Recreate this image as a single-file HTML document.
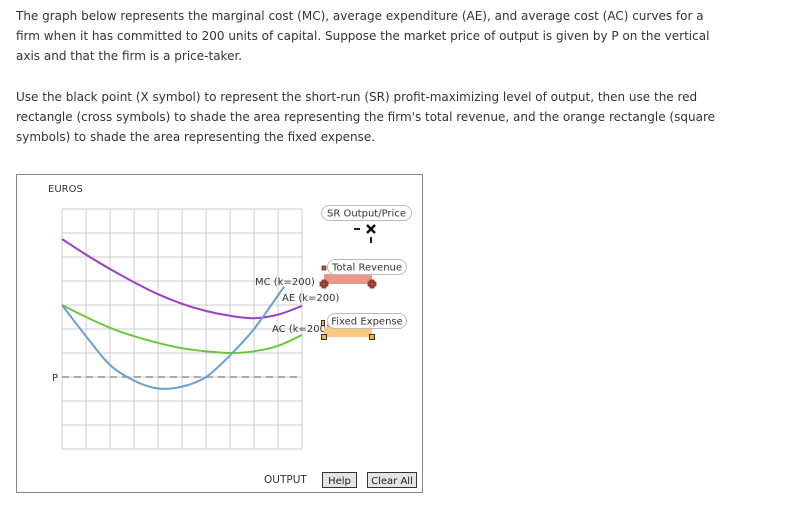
<!DOCTYPE html>
<html><head><meta charset="utf-8"><style>
body{margin:0;background:#fff;width:811px;height:527px;overflow:hidden;font-family:"DejaVu Sans","Liberation Sans",sans-serif;color:#333}
.p{position:absolute;left:16px;font-size:12px;line-height:20px;margin:0}
</style></head><body>
<p class="p" style="top:6px">The graph below represents the marginal cost (MC), average expenditure (AE), and average cost (AC) curves for a<br>firm when it has committed to 200 units of capital. Suppose the market price of output is given by P on the vertical<br>axis and that the firm is a price-taker.</p>
<p class="p" style="top:87px">Use the black point (X symbol) to represent the short-run (SR) profit-maximizing level of output, then use the red<br>rectangle (cross symbols) to shade the area representing the firm's total revenue, and the orange rectangle (square<br>symbols) to shade the area representing the fixed expense.</p>
<svg id="chart" width="811" height="527" style="position:absolute;left:0;top:0" font-family="DejaVu Sans, Liberation Sans, sans-serif">
<rect x="16.5" y="174.5" width="406" height="318" fill="#fff" stroke="#888"/>
<g id="grid"></g>
<g id="curves"></g>
<text x="48" y="192" font-size="10" fill="#333">EUROS</text>
<text x="264" y="483" font-size="10.5" fill="#333">OUTPUT</text>
<text x="52" y="381" font-size="10" fill="#333">P</text>
<text x="255" y="285" font-size="10" fill="#333">MC (k=200)</text>
<text x="282" y="301" font-size="10" fill="#333">AE (k=200)</text>
<text x="272" y="332" font-size="10" fill="#333">AC (k=200)</text>
<g>
<rect x="321.5" y="205.5" width="90" height="15" rx="7.5" fill="#fff" stroke="#bbb"/>
<text x="366.5" y="216.5" font-size="10" text-anchor="middle" fill="#333">SR Output/Price</text>
<line x1="354" y1="229" x2="360" y2="229" stroke="#222" stroke-width="2"/>
<line x1="371" y1="237" x2="371" y2="243" stroke="#222" stroke-width="2"/>
<path d="M367 225 L375 233 M375 225 L367 233" stroke="#111" stroke-width="2.5"/>
</g>
<g>
<rect x="324" y="274" width="48" height="10" fill="#e8998a"/>
<rect x="327.5" y="259.5" width="79" height="15" rx="7.5" fill="#fff" stroke="#bbb"/>
<text x="367" y="270.5" font-size="10" text-anchor="middle" fill="#333">Total Revenue</text>
<path d="M322 266h4v4h-4z M320 282h8v4h-8z M322 280h4v8h-4z M368 282h8v4h-8z M370 280h4v8h-4z" fill="#c0543f" stroke="#5a2318" stroke-width="0.7"/>
</g>
<g>
<rect x="324" y="327" width="48" height="10" fill="#fdc97f"/>
<rect x="327.5" y="313.5" width="79" height="15" rx="7.5" fill="#fff" stroke="#bbb"/>
<text x="367" y="324.5" font-size="10" text-anchor="middle" fill="#333">Fixed Expense</text>
<rect x="321.5" y="334.5" width="5" height="5" fill="#f5b041" stroke="#333"/>
<rect x="369.5" y="334.5" width="5" height="5" fill="#f5b041" stroke="#333"/>
<rect x="321.5" y="320.5" width="3" height="5" fill="#f5b041" stroke="#333"/>
</g>
<g>
<rect x="322.5" y="472.5" width="34" height="15" fill="#e4e4e4" stroke="#333"/>
<text x="339.5" y="484" font-size="10" text-anchor="middle" fill="#222">Help</text>
</g>
<g>
<rect x="367.5" y="472.5" width="49" height="15" fill="#e4e4e4" stroke="#333"/>
<text x="392" y="484" font-size="10" text-anchor="middle" fill="#222">Clear All</text>
</g>
</svg>
<script>
const xs = [0,1,2,3,4,5,6,7,8,9,10];
const aeValues = [8.75,8.1,7.5,6.95,6.45,6.05,5.75,5.55,5.45,5.6,5.96];
const acValues = [6.0,5.5,5.05,4.7,4.42,4.2,4.07,4.0,4.07,4.3,4.75];
const mcXs = [0,1,2,3,4,5,6,7,8,9,9.26];
const mcValues = [6.0,4.7,3.5,2.85,2.52,2.6,3.0,3.9,5.0,6.4,6.76];
const priceValue = 3.0;
const X0=62,X1=302,Y0=449,Y1=209;
const sx=v=>X0+(X1-X0)*v/10, sy=v=>Y0-(Y0-Y1)*v/10;
const NS='http://www.w3.org/2000/svg';
const grid=document.getElementById('grid'), curves=document.getElementById('curves');
for(let i=0;i<=10;i++){
  const v=document.createElementNS(NS,'line');
  v.setAttribute('x1',sx(i));v.setAttribute('x2',sx(i));v.setAttribute('y1',Y1);v.setAttribute('y2',Y0);
  v.setAttribute('stroke','#ccc');
  
  
  grid.appendChild(v);
  const h=document.createElementNS(NS,'line');
  h.setAttribute('y1',sy(i));h.setAttribute('y2',sy(i));h.setAttribute('x1',X0);h.setAttribute('x2',X1);
  h.setAttribute('stroke','#ccc');
  
  
  grid.appendChild(h);
}
const pl=document.createElementNS(NS,'line');
pl.setAttribute('x1',X0);pl.setAttribute('x2',X1);pl.setAttribute('y1',sy(priceValue));pl.setAttribute('y2',sy(priceValue));
pl.setAttribute('stroke','#aaa');pl.setAttribute('stroke-width','2');pl.setAttribute('stroke-dasharray','7,5');


curves.appendChild(pl);
function path(xv,yv){
  const p=xv.map((x,i)=>[sx(x),sy(yv[i])]);
  let d='M'+p[0][0]+' '+p[0][1];
  for(let i=0;i<p.length-1;i++){
    const a=p[Math.max(0,i-1)],b=p[i],c=p[i+1],e=p[Math.min(p.length-1,i+2)];
    d+=` C${b[0]+(c[0]-a[0])/6} ${b[1]+(c[1]-a[1])/6} ${c[0]-(e[0]-b[0])/6} ${c[1]-(e[1]-b[1])/6} ${c[0]} ${c[1]}`;
  }
  return d;
}
function addCurve(xv,yv,color,name){
  const el=document.createElementNS(NS,'path');
  el.setAttribute('d',path(xv,yv));el.setAttribute('fill','none');
  el.setAttribute('stroke',color);el.setAttribute('stroke-width','2');
  
  
  curves.appendChild(el);
}
addCurve(xs,aeValues,'#9b3fc8','ae-curve');
addCurve(xs,acValues,'#6cc63c','ac-curve');
addCurve(mcXs,mcValues,'#6a9fcf','mc-curve');
</script>
</body></html>
